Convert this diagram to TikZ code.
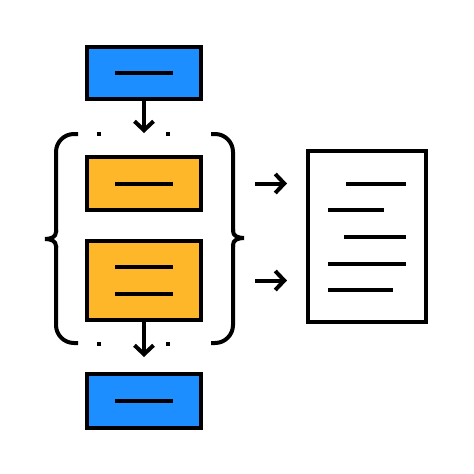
\documentclass[tikz,border=0pt]{standalone}
\usepackage{xcolor}
\usepackage{tikz}
\usetikzlibrary{arrows.meta, positioning, calc}

\definecolor{flowblue}{RGB}{28,142,255}
\definecolor{floworange}{RGB}{255,183,42}

\begin{document}
\begin{tikzpicture}[
			x=1pt, y=-1pt,
			line width=4pt,
			stepbox/.style={rectangle, draw=black, line width=4pt, minimum width=114pt, inner sep=0pt},
			bluebox/.style={stepbox, fill=flowblue},
			orangebox/.style={stepbox, fill=floworange},
			docbox/.style={rectangle, draw=black, fill=white, line width=4pt, minimum width=118pt, minimum height=171pt, inner sep=0pt},
			arrow/.style={-{Straight Barb[length=9pt, width=19pt]}, line width=4pt, draw=black},
			bracket/.style={rounded corners=18pt, line width=4pt, draw=black}
		]
		\useasboundingbox (0,0) rectangle (474,474);

		\node[bluebox, minimum height=52pt] (start) at (144,73) {};
		\node[orangebox, minimum height=53pt, below=54pt of start] (step1) {};
		\node[orangebox, minimum height=79pt, below=27pt of step1] (step2) {};
		\node[bluebox, minimum height=54pt, below=50pt of step2] (finish) {};
		\node[docbox] (doc) at (367,236.5) {};

		% lines inside the boxes
		\draw ($(start.center)+(-29,0)$) -- ($(start.center)+(29,0)$);
		\draw ($(step1.center)+(-29,0)$) -- ($(step1.center)+(29,0)$);
		\draw ($(step2.center)+(-29,-13.5)$) -- ($(step2.center)+(29,-13.5)$);
		\draw ($(step2.center)+(-29,13.5)$) -- ($(step2.center)+(29,13.5)$);
		\draw ($(finish.center)+(-29,0)$) -- ($(finish.center)+(29,0)$);

		% text lines of the document
		\draw ($(doc.center)+(-21,-53)$) -- ($(doc.center)+(39,-53)$);
		\draw ($(doc.center)+(-39,-26.5)$) -- ($(doc.center)+(17,-26.5)$);
		\draw ($(doc.center)+(-23,0)$) -- ($(doc.center)+(39,0)$);
		\draw ($(doc.center)+(-39,27)$) -- ($(doc.center)+(39,27)$);
		\draw ($(doc.center)+(-39,53.5)$) -- ($(doc.center)+(26,53.5)$);

		% brackets round the orange steps
		\draw[bracket] (78,134) -- (56,134) -- (56,232);
		\draw (56,230) -- (56,232) .. controls (56,237) and (51,239) .. (45,239) .. controls (51,239) and (56,241) .. (56,246) -- (56,248);
		\draw[bracket] (56,246) -- (56,343) -- (78,343);
		\draw[bracket] (211,134) -- (233,134) -- (233,231);
		\draw (233,229) -- (233,231) .. controls (233,236) and (238,238) .. (244,238) .. controls (238,238) and (233,240) .. (233,245) -- (233,247);
		\draw[bracket] (233,245) -- (233,343) -- (211,343);
		\fill (97,132) rectangle (101,136);
		\fill (165.5,132) rectangle (169.5,136);
		\fill (97,341.5) rectangle (101,345.5);
		\fill (165.5,341.5) rectangle (169.5,345.5);

		% connectors
		\coordinate (tip1) at (144,133);
		\coordinate (tip2) at (144,357);
		\coordinate (in1) at (255,183.5);
		\coordinate (out1) at (287,183.5);
		\coordinate (in2) at (255,280.5);
		\coordinate (out2) at (287,280.5);

		\draw[arrow] (start) -- (tip1);
		\draw[arrow] (step2) -- (tip2);
		\draw[arrow] (in1) -- (out1);
		\draw[arrow] (in2) -- (out2);

	\end{tikzpicture}
\end{document}
